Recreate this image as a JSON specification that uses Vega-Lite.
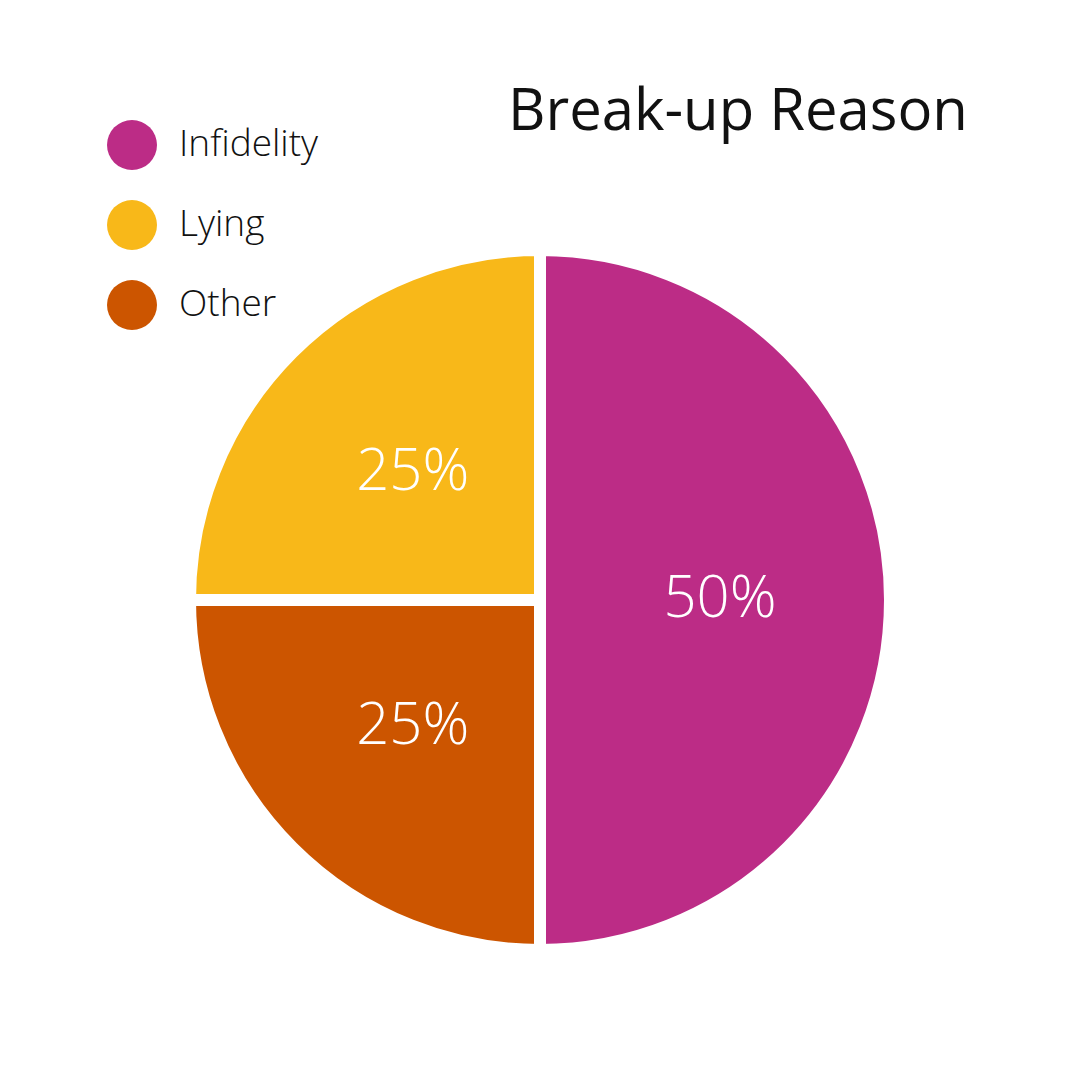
{
  "$schema": "https://vega.github.io/schema/vega-lite/v6.json",
  "autosize": "none",
  "width": 1080,
  "height": 1200,
  "padding": 0,
  "background": "white",
  "title": {
    "text": "Break-up Reason",
    "anchor": "start",
    "frame": "group",
    "orient": "top",
    "baseline": "alphabetic",
    "offset": 0,
    "dx": 508,
    "dy": 188,
    "font": "Open Sans",
    "fontSize": 58,
    "fontWeight": 400,
    "color": "#111111"
  },
  "data": {
    "values": [
      {"reason": "Infidelity", "share": 0.5, "seq": 1},
      {"reason": "Other", "share": 0.25, "seq": 2},
      {"reason": "Lying", "share": 0.25, "seq": 3}
    ]
  },
  "encoding": {
    "theta": {"field": "share", "type": "quantitative", "stack": true},
    "order": {"field": "seq", "type": "quantitative"},
    "color": {
      "field": "reason",
      "type": "nominal",
      "scale": {
        "domain": ["Infidelity", "Lying", "Other"],
        "range": ["#BC2C86", "#F8B819", "#CC5500"]
      },
      "legend": {
        "title": null,
        "orient": "none",
        "legendX": 107,
        "legendY": 120,
        "symbolType": "circle",
        "symbolSize": 2500,
        "symbolStrokeWidth": 0,
        "labelFont": "Open Sans",
        "labelFontWeight": 300,
        "labelFontSize": 37,
        "labelColor": "#111111",
        "labelOffset": 22,
        "rowPadding": 30
      }
    }
  },
  "layer": [
    {
      "mark": {"type": "arc", "outerRadius": 350, "stroke": "white", "strokeWidth": 12}
    },
    {
      "mark": {
        "type": "text",
        "radius": 180,
        "font": "Open Sans",
        "fontWeight": 300,
        "fontSize": 58,
        "fill": "white"
      },
      "encoding": {
        "text": {"field": "share", "type": "quantitative", "format": ".0%"},
        "color": {"value": "white"}
      }
    }
  ],
  "config": {"view": {"stroke": null}}
}
